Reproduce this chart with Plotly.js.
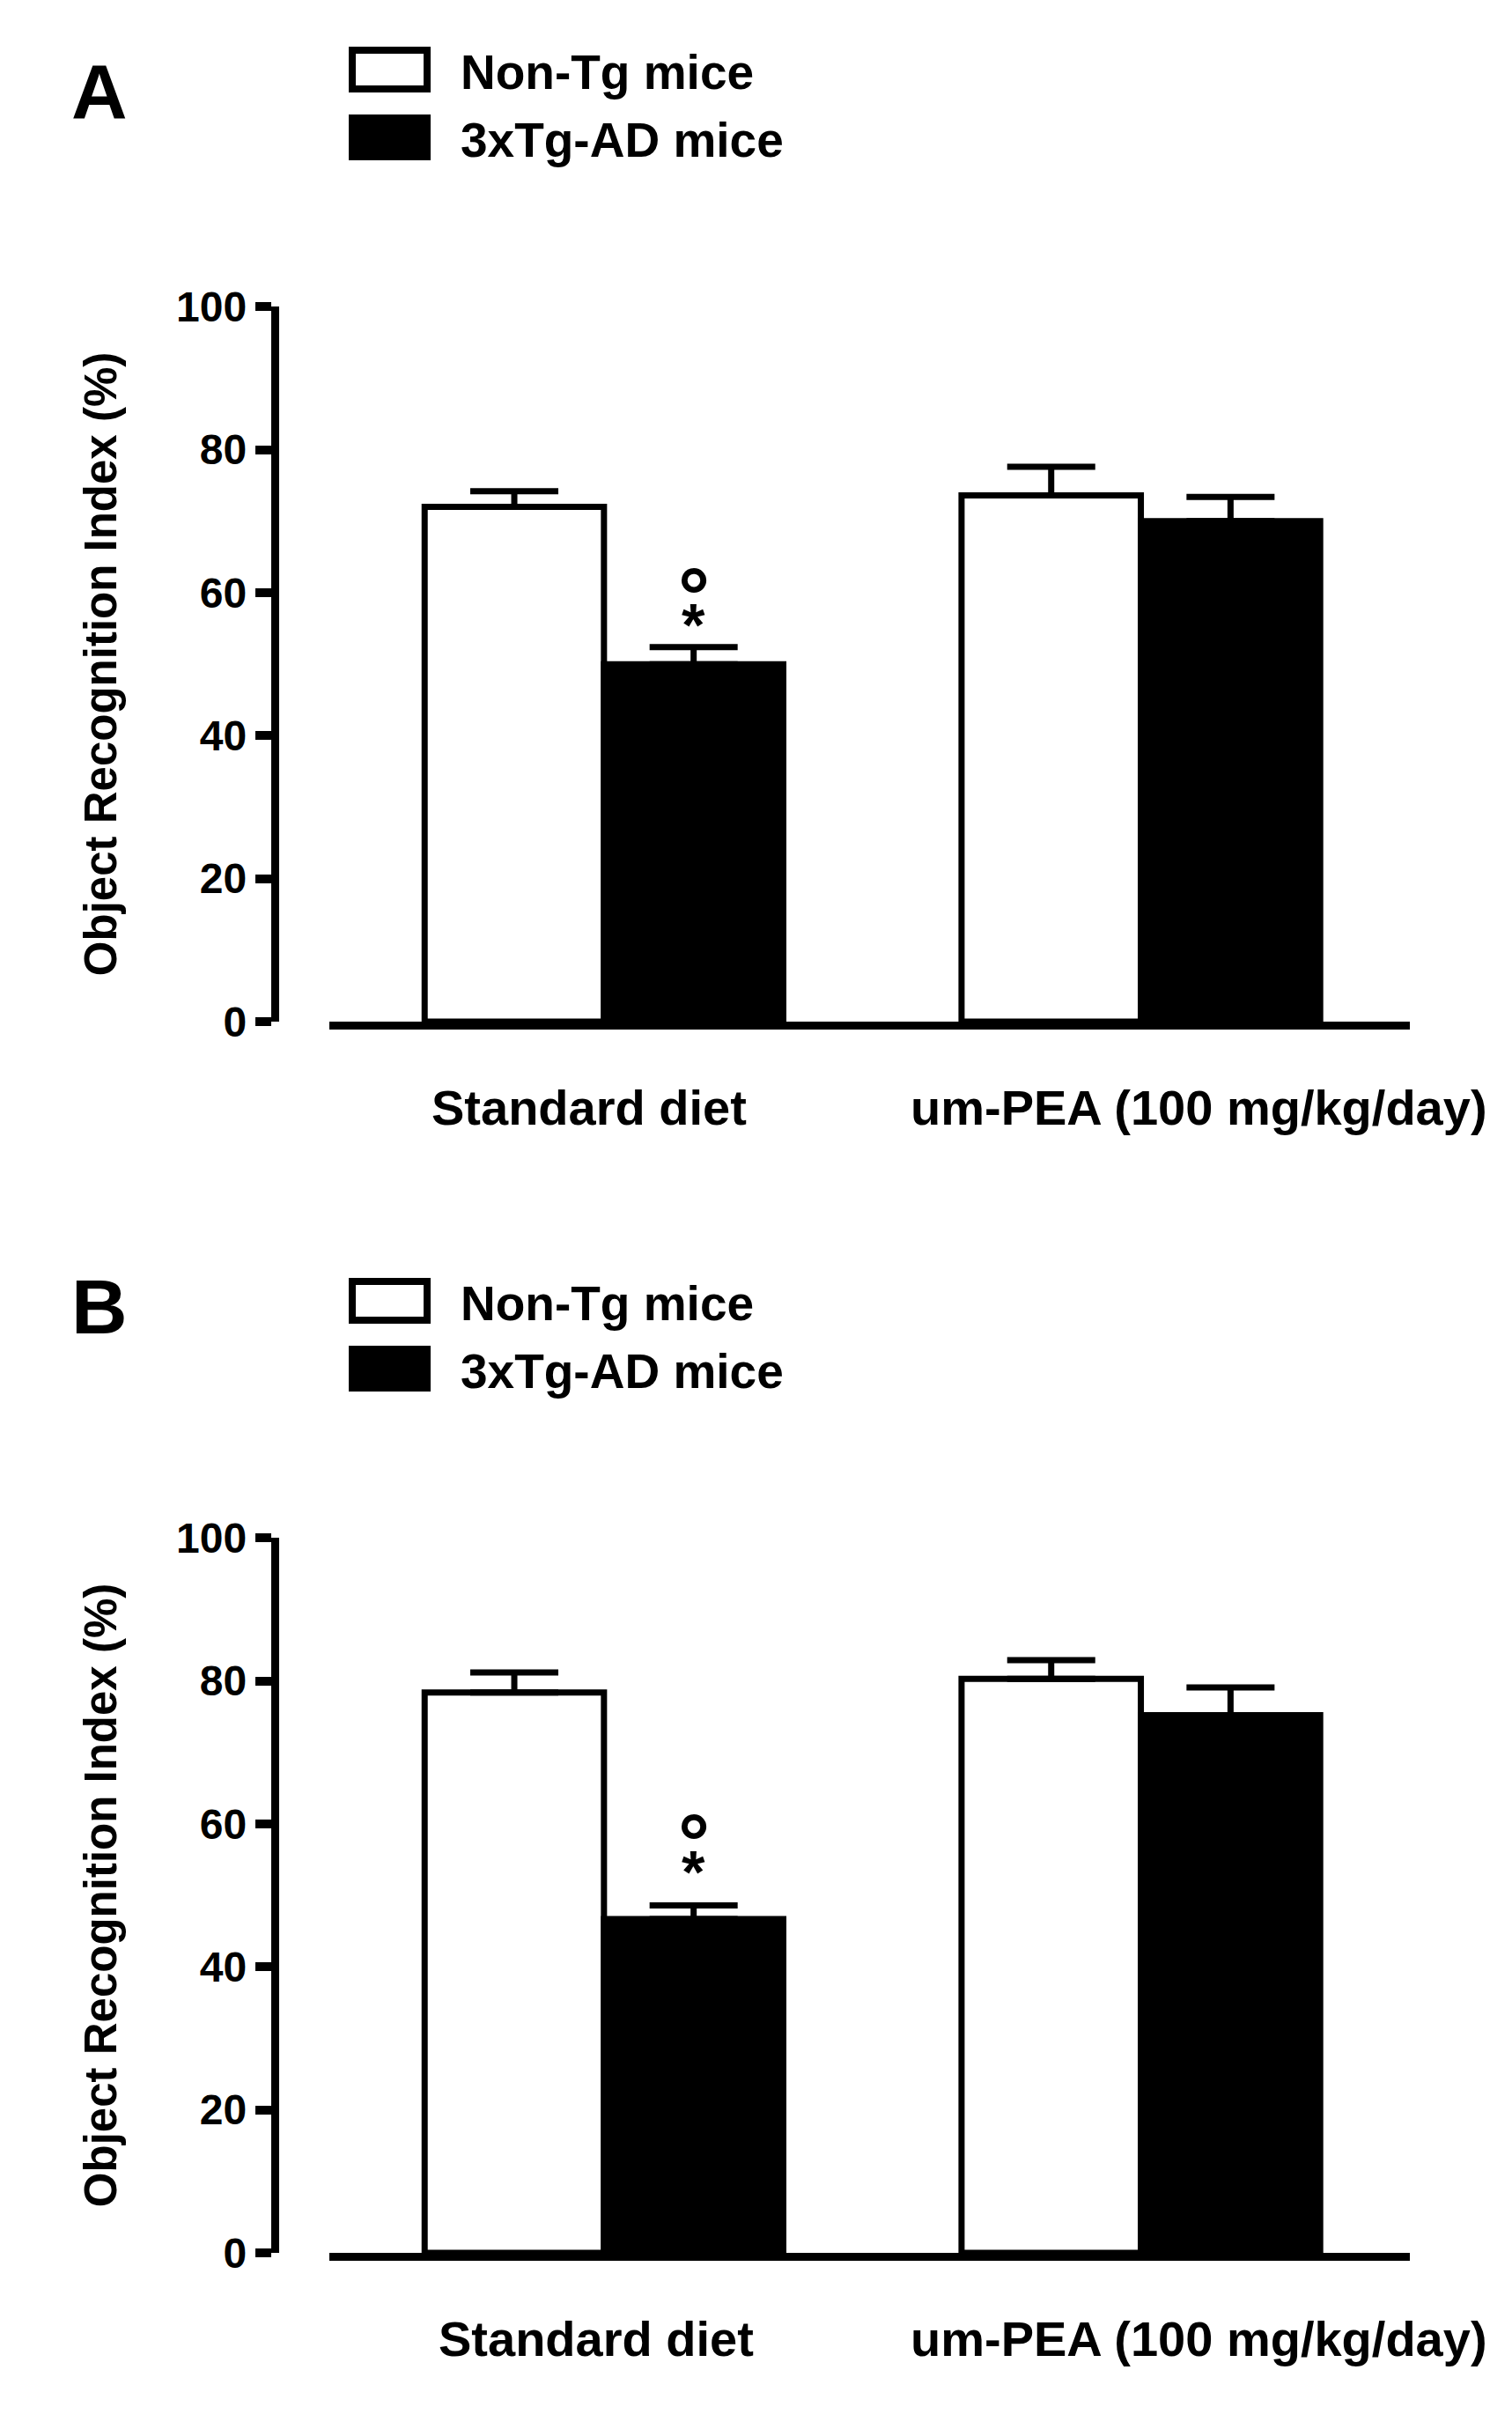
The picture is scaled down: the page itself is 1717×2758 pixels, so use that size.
<!DOCTYPE html>
<html>
<head>
<meta charset="utf-8">
<script src="https://cdn.plot.ly/plotly-3.0.1.min.js"></script>
<style>html,body{margin:0;padding:0;background:#fff;}#chart{width:1717px;height:2758px;}</style>
</head>
<body>
<div id="chart"></div>
<script>
// ---------------- DATA ----------------
const categories = ["Standard diet", "um-PEA (100 mg/kg/day)"];
const seriesNames = ["Non-Tg mice", "3xTg-AD mice"];
const panelLabels = ["A", "B"];
const yTitleText = "Object Recognition Index (%)";
const yTickVals = [0, 20, 40, 60, 80, 100];
const sigMarks = ["°", "*"];

const panelA_nonTg = [72.0, 73.6];
const panelA_nonTg_sem = [2.2, 4.0];
const panelA_tg = [50.0, 70.0];
const panelA_tg_sem = [2.4, 3.4];

const panelB_nonTg = [78.4, 80.3];
const panelB_nonTg_sem = [2.8, 2.6];
const panelB_tg = [46.7, 75.2];
const panelB_tg_sem = [1.9, 3.9];

// ---------------- LAYOUT HELPERS ----------------
const W = 1717, H = 2758;
const px = v => v / W;
const py = v => 1 - v / H;
const FONT = "Liberation Sans, Arial, Helvetica, sans-serif";
const BARGAP = 0.332;
const panelOffset = [0, 1398];
const letterY = [104, 1484];

const panels = [
  {nonTg: panelA_nonTg, nonTgSem: panelA_nonTg_sem, tg: panelA_tg, tgSem: panelA_tg_sem,
   xa: "x", ya: "y", labelShift: [-17, 66], sigShift: [58, 26]},
  {nonTg: panelB_nonTg, nonTgSem: panelB_nonTg_sem, tg: panelB_tg, tgSem: panelB_tg_sem,
   xa: "x2", ya: "y2", labelShift: [-9, 66], sigShift: [72, 39]}
];

const traces = [];
const annotations = [];
const shapes = [];

panels.forEach((p, i) => {
  const off = panelOffset[i];
  traces.push({
    type: "bar", name: seriesNames[0], x: categories, y: p.nonTg,
    xaxis: p.xa, yaxis: p.ya, showlegend: false,
    marker: {color: "#ffffff", line: {color: "#000000", width: 7}},
    error_y: {type: "data", array: p.nonTgSem, arrayminus: p.nonTgSem.map(() => 0),
              symmetric: false, visible: true, color: "#000000", thickness: 7, width: 50}
  });
  traces.push({
    type: "bar", name: seriesNames[1], x: categories, y: p.tg,
    xaxis: p.xa, yaxis: p.ya, showlegend: false,
    marker: {color: "#000000", line: {color: "#000000", width: 7}},
    error_y: {type: "data", array: p.tgSem, arrayminus: p.tgSem.map(() => 0),
              symmetric: false, visible: true, color: "#000000", thickness: 7, width: 50}
  });

  // category labels
  categories.forEach((c, k) => {
    annotations.push({
      text: c, x: k, xref: p.xa, y: py(1257 + off), yref: "paper",
      xshift: p.labelShift[k], xanchor: "center", yanchor: "middle", showarrow: false,
      font: {family: FONT, size: 56, color: "#000", weight: 700}
    });
  });

  // significance marks above the 3xTg standard diet bar
  const sigX = 0 + (1 - BARGAP) / 4;
  const sigY = p.tg[0] + p.tgSem[0];
  sigMarks.forEach((m, k) => {
    annotations.push({
      text: m, x: sigX, xref: p.xa, y: sigY, yref: p.ya, yshift: p.sigShift[k],
      xanchor: "center", yanchor: "middle", showarrow: false,
      font: {family: FONT, size: k === 0 ? 90 : 68, color: "#000", weight: 700}
    });
  });

  // y axis title
  annotations.push({
    text: yTitleText, x: px(114), xref: "paper", y: 0.5, yref: p.ya + " domain",
    textangle: -90, xanchor: "center", yanchor: "middle", showarrow: false,
    font: {family: FONT, size: 51, color: "#000", weight: 700}
  });

  // panel letter
  annotations.push({
    text: panelLabels[i], x: px(113), xref: "paper", y: py(letterY[i]), yref: "paper",
    xanchor: "center", yanchor: "middle", showarrow: false,
    font: {family: FONT, size: 88, color: "#000", weight: 700}
  });

  // legend (swatches + text)
  const rows = [79, 156];
  seriesNames.forEach((s, k) => {
    shapes.push({
      type: "rect", xref: "paper", yref: "paper",
      x0: px(400), x1: px(485), y0: py(rows[k] - 22 + off), y1: py(rows[k] + 22 + off),
      line: {color: "#000", width: 8}, fillcolor: k === 0 ? "#fff" : "#000"
    });
    annotations.push({
      text: s, x: px(521), xref: "paper", y: py(rows[k] + 3 + off), yref: "paper",
      xanchor: "left", yanchor: "middle", showarrow: false,
      font: {family: FONT, size: 55, color: "#000", weight: 700}
    });
  });
});

const xaxisBase = {
  type: "category", domain: [px(374.3), px(1601)], range: [-0.511, 1.501],
  showline: true, linecolor: "#000", linewidth: 9, showticklabels: false, ticks: "",
  showgrid: false, zeroline: false, fixedrange: true
};
const yaxisBase = {
  anchor: "free", position: px(311.7), range: [0, 100], tickvals: yTickVals,
  ticks: "outside", ticklen: 18, tickwidth: 10, tickcolor: "#000",
  showline: true, linecolor: "#000", linewidth: 9,
  tickfont: {family: FONT, size: 48, color: "#000", weight: 700},
  showgrid: false, zeroline: false, fixedrange: true
};

const layout = {
  width: W, height: H,
  margin: {l: 0, r: 0, t: 0, b: 0, pad: 0},
  paper_bgcolor: "#fff", plot_bgcolor: "#fff",
  barmode: "group", bargap: BARGAP, bargroupgap: 0,
  showlegend: false,
  xaxis: Object.assign({}, xaxisBase, {anchor: "y"}),
  yaxis: Object.assign({}, yaxisBase, {domain: [py(1160), py(348.3)]}),
  xaxis2: Object.assign({}, xaxisBase, {anchor: "y2"}),
  yaxis2: Object.assign({}, yaxisBase, {domain: [py(1160 + 1398), py(348.3 + 1398)]}),
  annotations: annotations,
  shapes: shapes
};

Plotly.newPlot("chart", traces, layout, {displayModeBar: false, staticPlot: true});
</script>
</body>
</html>
